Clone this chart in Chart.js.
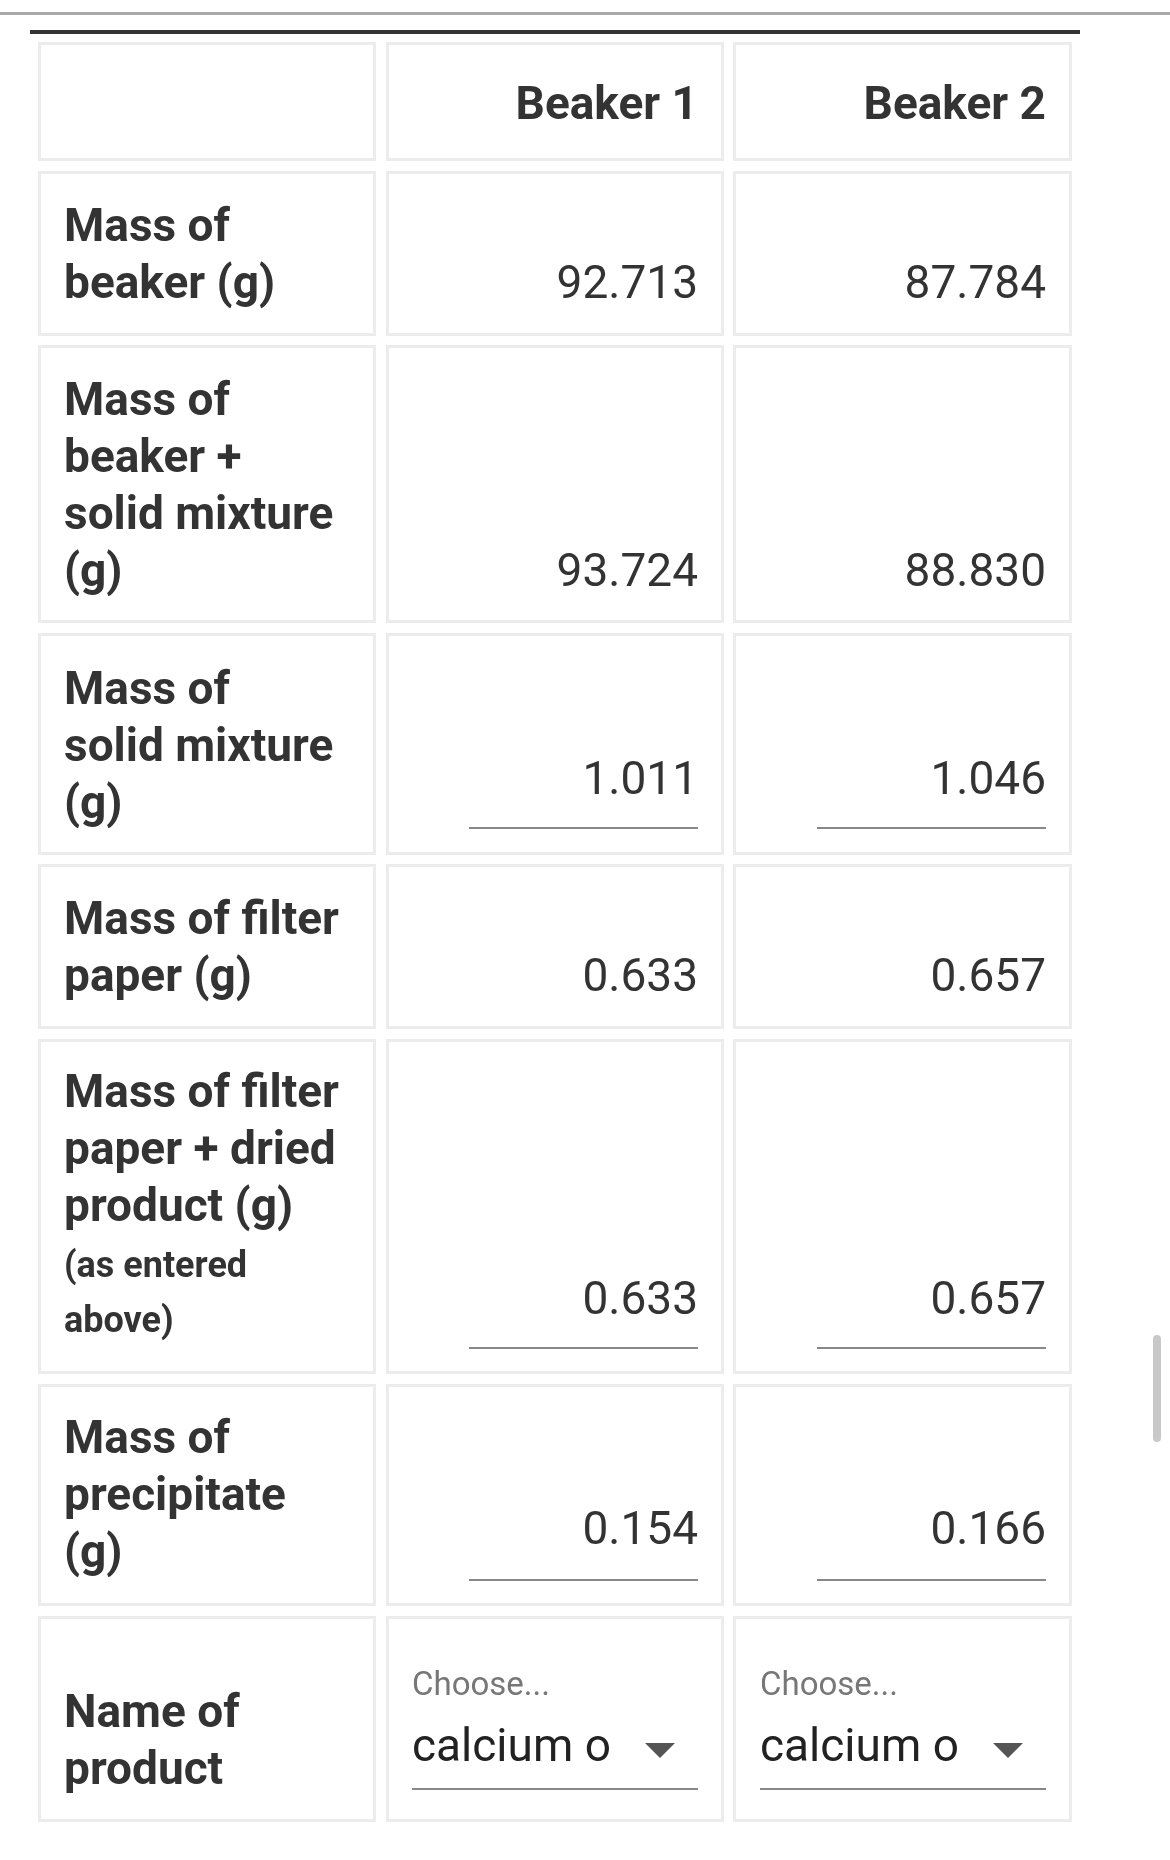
<!DOCTYPE html>
<html><head><meta charset="utf-8">
<script src="https://cdn.jsdelivr.net/npm/chart.js@4"></script>
<style>html,body{margin:0;padding:0;background:#fff;}#wrap{width:1170px;height:1860px;}</style>
</head><body><div id="wrap"><canvas id="c" width="1170" height="1860"></canvas></div>
<script>
const columns = ["", "Beaker 1", "Beaker 2"];
const rowLabels = [
  ["Mass of", "beaker (g)"],
  ["Mass of", "beaker +", "solid mixture", "(g)"],
  ["Mass of", "solid mixture", "(g)"],
  ["Mass of filter", "paper (g)"],
  ["Mass of filter", "paper + dried", "product (g)", "(as entered", "above)"],
  ["Mass of", "precipitate", "(g)"],
  ["Name of", "product"]
];
const beaker1 = ["92.713", "93.724", "1.011", "0.633", "0.633", "0.154", "calcium o"];
const beaker2 = ["87.784", "88.830", "1.046", "0.657", "0.657", "0.166", "calcium o"];
const inputRows = [false, false, true, false, true, true, "select"];

// layout
const colX = [[38,376],[386,724],[733,1072]];
const rowY = [[42,161],[171,336],[345,623],[633,855],[864,1029],[1039,1374],[1384,1606],[1616,1822]];
const labelBase = [[241,298],[415,472,529,586],[704,761,818],[934,991],[1107,1164,1221,1277,1332],[1453,1510,1567],[1727,1784]];
const valueBase = [298,586,794,991,1314,1544,1761];
const underY = [null,null,827,null,1347,1579,1788];

const tablePlugin = {
  id:'table',
  afterDraw(chart){
    const ctx = chart.ctx;
    ctx.save();
    ctx.fillStyle='#aaa'; ctx.fillRect(0,12,1170,3);
    ctx.fillStyle='#333'; ctx.fillRect(30,30,1050,4);
    ctx.strokeStyle='#ececec'; ctx.lineWidth=3;
    for(let r=0;r<rowY.length;r++) for(let c=0;c<3;c++){
      ctx.strokeRect(colX[c][0]+1.5,rowY[r][0]+1.5,colX[c][1]-colX[c][0]-3,rowY[r][1]-rowY[r][0]-3);
    }
    ctx.textBaseline='alphabetic';
    ctx.fillStyle='#333';
    ctx.font='bold 46px Roboto'; ctx.textAlign='right';
    ctx.fillText(columns[1],698,119); ctx.fillText(columns[2],1046,119);
    ctx.textAlign='left';
    rowLabels.forEach((lines,r)=>{
      lines.forEach((t,i)=>{
        const small = r===4 && i>=3;
        ctx.font = small ? 'bold 36px Roboto' : 'bold 46px Roboto';
        ctx.fillStyle='#333';
        ctx.fillText(t,64,labelBase[r][i]);
      });
    });
    const vals=[beaker1,beaker2], rightX=[698,1046], underL=[469,817], selL=[412,760];
    for(let r=0;r<rowLabels.length;r++) for(let k=0;k<2;k++){
      if(inputRows[r]==='select'){
        ctx.fillStyle='#777'; ctx.font='33px Roboto'; ctx.textAlign='left';
        ctx.fillText('Choose...',selL[k],1695);
        ctx.fillStyle='#222'; ctx.font='46px Roboto';
        ctx.fillText(vals[k][r],selL[k],valueBase[r]);
        const tx = k===0?660:1008;
        ctx.fillStyle='#555'; ctx.beginPath();
        ctx.moveTo(tx-15,1743); ctx.lineTo(tx+15,1743); ctx.lineTo(tx,1758); ctx.closePath(); ctx.fill();
        ctx.fillStyle='#888'; ctx.fillRect(selL[k],underY[r],rightX[k]-selL[k],2);
      } else {
        ctx.fillStyle='#333'; ctx.font='46px Roboto'; ctx.textAlign='right';
        ctx.fillText(vals[k][r],rightX[k],valueBase[r]);
        if(inputRows[r]){ ctx.fillStyle='#888'; ctx.fillRect(underL[k],underY[r],rightX[k]-underL[k],2); }
      }
    }
    ctx.fillStyle='#c8c8c8';
    ctx.beginPath(); ctx.roundRect(1153,1335,8,107,4); ctx.fill();
    ctx.restore();
  }
};
new Chart(document.getElementById('c'),{
  type:'bar',
  data:{labels:columns.slice(1),datasets:[{data:[0,0],backgroundColor:'rgba(0,0,0,0)'}]},
  options:{responsive:false,animation:false,devicePixelRatio:1,
    plugins:{legend:{display:false},tooltip:{enabled:false}},
    scales:{x:{display:false},y:{display:false}}},
  plugins:[tablePlugin]
});
</script></body></html>
